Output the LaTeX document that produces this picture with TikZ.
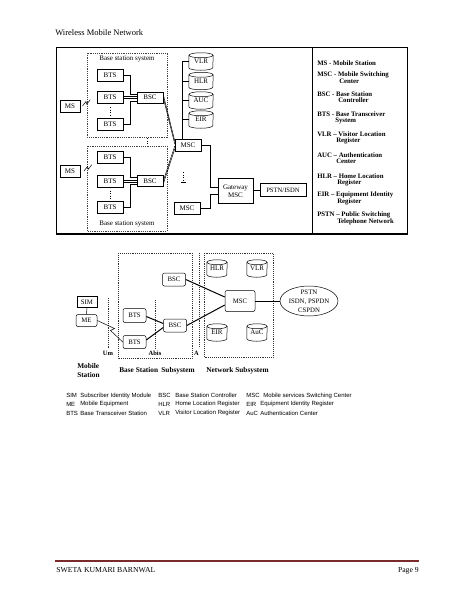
\documentclass[tikz,border=0pt]{standalone}
\usepackage{fontspec}
\setmainfont{Liberation Serif}
\newfontfamily\sansf{Liberation Sans}
\usetikzlibrary{calc,shapes.geometric}
\definecolor{footred}{RGB}{122,42,42}
\newcommand\mycyl[6]{%
  \node[cylnode, minimum width=#4pt, minimum height=#5pt] (#1) at (#2,#3) {\raisebox{-1.5pt}{#6}};
  \draw ($(#1.north west)+(0,-2.5)$) -- ($(#1.south west)+(0,2.5)$)
     arc[start angle=180,end angle=360,x radius=#4/2,y radius=2.5]
     -- ($(#1.north east)+(0,-2.5)$);
  \draw ($(#1.north)+(0,-2.5)$) ellipse[x radius=#4/2, y radius=2.5];
}
\begin{document}
\begin{tikzpicture}[x=1pt,y=1pt,line width=0.5pt,
  tbox/.style={draw, minimum width=26pt, minimum height=12pt, inner sep=0pt, font=\fontsize{7}{8}\selectfont},
  bbox/.style={draw, rounded corners=2pt, minimum width=23pt, minimum height=13pt, inner sep=0pt, font=\fontsize{6.8}{8}\selectfont},
  cylnode/.style={inner sep=0pt, font=\fontsize{7}{8}\selectfont},
  tsmall/.style={inner sep=0pt, font=\fontsize{7}{8}\selectfont},
  leg/.style={anchor=west, inner sep=0pt, font=\bfseries\fontsize{6.8}{8}\selectfont},
  blab/.style={inner sep=0pt, font=\bfseries\fontsize{7.3}{9}\selectfont},
  ifl/.style={inner sep=0pt, font=\bfseries\fontsize{6.5}{8}\selectfont},
  bleg/.style={anchor=west, inner sep=0pt, font=\sansf\fontsize{6}{7}\selectfont},
  dashbox/.style={draw=black!75, dash pattern=on 1.2pt off 1pt},
  dotbox/.style={draw=black!80, dash pattern=on 0.6pt off 1.3pt, line width=0.6pt},
  thk/.style={line width=1pt}
]
\useasboundingbox (0,0) rectangle (474,-613);
\fill[white] (0,0) rectangle (474,-613);

% header
\node[anchor=west, inner sep=0pt, font=\fontsize{8.5}{10}\selectfont] (hdr) at (55,-33) {Wireless Mobile Network};

% ================= top figure =================
\draw[line width=0.6pt] (56,-47) rectangle (407,-234);
\draw[line width=1.4pt] (56,-234) -- (407,-234);
\draw (312,-47) -- (312,-234);

\draw[dashbox] (87,-53) rectangle (167,-137);
\draw[dashbox] (87,-146) rectangle (167,-231);
\node[tsmall] (bsslab1) at (127,-59) {Base station system};
\node[tsmall] (bsslab2) at (127,-224) {Base station system};

\node[tbox, minimum width=20pt] (ms1) at (70,-106) {MS};
\node[tbox, minimum width=20pt] (ms2) at (70,-171.5) {MS};

\node[tbox] (bts1) at (110,-75) {BTS};
\node[tbox] (bts2) at (110,-97.5) {BTS};
\node[tbox] (bts3) at (110,-124) {BTS};
\node[tbox] (bts4) at (110,-157) {BTS};
\node[tbox] (bts5) at (110,-181) {BTS};
\node[tbox] (bts6) at (110,-207.5) {BTS};
\node[tbox, minimum height=11pt] (bsc1) at (150,-97.5) {BSC};
\node[tbox, minimum height=11pt] (bsc2) at (150,-181) {BSC};
\node[tbox] (msc1) at (188,-145) {MSC};
\node[tbox] (msc2) at (187,-208) {MSC};
\node[tbox, minimum width=35pt, minimum height=25pt, align=center, font=\fontsize{7}{8.5}\selectfont] (gw) at (235.5,-191) {Gateway\\MSC};
\node[tbox, minimum width=46pt, minimum height=13pt, font=\fontsize{6.6}{8}\selectfont] (pstn) at (283,-190) {PSTN/ISDN};

\mycyl{vlr}{201}{-61.5}{24}{17}{VLR}
\mycyl{hlr}{201}{-81}{24}{17}{HLR}
\mycyl{auc}{201}{-100.5}{24}{17}{AUC}
\mycyl{eir}{201}{-119.5}{24}{17}{EIR}

% bus to databases
\coordinate (bustop) at (182,-61.5);
\draw (bustop) -- (bustop |- msc1.north);
\foreach \c in {vlr,hlr,auc,eir} \draw (bustop |- \c.west) -- (\c.west);

% BTS to BSC
\draw (bts1.east) -- ++(7,0) |- ([yshift=3.5]bsc1.west);
\draw ([yshift=1]bts2.east) -- ([yshift=1]bsc1.west);
\draw ([yshift=-1]bts2.east) -- ([yshift=-1]bsc1.west);
\draw (bts3.east) -- ++(7,0) |- ([yshift=-3.5]bsc1.west);
\draw (bts4.east) -- ++(7,0) |- ([yshift=3.5]bsc2.west);
\draw ([yshift=1]bts5.east) -- ([yshift=1]bsc2.west);
\draw ([yshift=-1]bts5.east) -- ([yshift=-1]bsc2.west);
\draw (bts6.east) -- ++(7,0) |- ([yshift=-3.5]bsc2.west);

% BSC to MSC
\draw ([yshift=3]bsc1.east) -- ([yshift=4]msc1.west);
\draw ([yshift=0]bsc1.east) -- ([yshift=1]msc1.west);
\draw ([yshift=0]bsc2.east) -- ([yshift=-1]msc1.west);
\draw ([yshift=-3]bsc2.east) -- ([yshift=-4]msc1.west);

% MSC to gateway to PSTN
\draw (msc1.east) -- (210,-145) |- ([yshift=4]gw.west);
\draw (msc2.east) -- (210,-208) |- ([yshift=-3]gw.west);
\draw (gw.east |- pstn.west) -- (pstn.west);

% dots
\draw[dotted, line width=0.6pt] (110,-107) -- (110,-116);
\draw[dotted, line width=0.6pt] (110,-190.5) -- (110,-199);
\draw[dotted, line width=0.6pt] (147,-138) -- (147,-145);
\draw[dotted, line width=0.6pt] (183,-172) -- (183,-181);
\draw (181,-182) -- (186,-182);

% radio links
\draw (82.5,-106) -- (86,-101.5) -- (86.8,-104.2) -- (90.3,-99.7);
\draw (84,-171) -- (87.5,-166.5) -- (88.3,-169.2) -- (91.8,-164.7);

% legend top
\node[leg] (l1) at (317,-63) {MS - Mobile Station};
\node[leg] (l2a) at (317,-75) {MSC - Mobile Switching};
\node[leg] (l2b) at (339,-81.5) {Center};
\node[leg] (l3a) at (317,-94) {BSC - Base Station};
\node[leg] (l3b) at (338,-100.5) {Controller};
\node[leg] (l4a) at (317,-114) {BTS - Base Transceiver};
\node[leg] (l4b) at (335,-120.5) {System};
\node[leg] (l5a) at (317,-134) {VLR – Visitor Location};
\node[leg] (l5b) at (336,-140.5) {Register};
\node[leg] (l6a) at (317,-155) {AUC – Authentication};
\node[leg] (l6b) at (336,-161.5) {Center};
\node[leg] (l7a) at (317,-176) {HLR – Home Location};
\node[leg] (l7b) at (337,-182.5) {Register};
\node[leg] (l8a) at (317,-195) {EIR – Equipment Identity};
\node[leg] (l8b) at (337,-201.5) {Register};
\node[leg] (l9a) at (317,-215) {PSTN – Public Switching};
\node[leg] (l9b) at (337,-221.5) {Telephone Network};

% ================= bottom figure =================
\draw[dotbox] (118,-253) rectangle (192,-358);
\draw[dotbox] (204,-253) rectangle (273,-357);
\draw[dotbox] (199,-253) -- (199,-348);
\draw[dotbox] (108,-298) -- (108,-348);
\draw[dotbox] (155,-300) -- (155,-348);
\node[ifl] (um) at (108,-353) {Um};
\node[ifl] (abis) at (155,-353) {Abis};
\node[ifl] (aif) at (196.5,-353) {A};

\node[bbox, rounded corners=0pt, minimum width=20pt, minimum height=11pt] (sim) at (87,-302) {SIM};
\node[bbox, minimum width=21pt, minimum height=12pt] (me) at (86.5,-320.5) {ME};
\node[bbox, minimum height=14pt] (btsa) at (134.5,-315.5) {BTS};
\node[bbox] (btsb) at (134.5,-342) {BTS};
\node[bbox] (bsca) at (174,-279.5) {BSC};
\node[bbox] (bscb) at (175,-325.5) {BSC};
\node[bbox, minimum width=30pt, minimum height=21pt] (mscb) at (240,-301) {MSC};
\mycyl{hlrb}{217}{-268.5}{20}{17}{HLR}
\mycyl{vlrb}{257}{-268.5}{20}{17}{VLR}
\mycyl{eirb}{217}{-332.5}{20}{17}{EIR}
\mycyl{aucb}{257}{-332.5}{20}{17}{AuC}
\node[draw, ellipse, minimum width=58pt, minimum height=30pt, inner xsep=0pt, inner ysep=-3pt, align=center, font=\fontsize{6.8}{9}\selectfont] (pstnb) at (309,-301) {PSTN\\ISDN, PSPDN\\CSPDN};

\draw (sim.south) -- (me.north);
\draw (me.east) -- (114.5,-328.5) -- (110.5,-330.5) -- (btsb.west);
\draw[thk] ([yshift=-1]btsa.east) -- ([yshift=2]bscb.west);
\draw[thk] ([yshift=2]btsb.east) -- ([yshift=-2]bscb.west);
\draw[thk] (bsca.east) -- ([yshift=4]mscb.west);
\draw[thk] (bscb.east) -- ([yshift=-4]mscb.west);
\draw[thk] (mscb.east) -- (pstnb.west);

\node[blab, anchor=west, align=left] (mslab) at (77,-370.5) {Mobile\\Station};
\node[blab] (bsslab) at (157,-371) {Base Station\hspace{1.5pt} Subsystem};
\node[blab] (nsslab) at (237.5,-371) {Network Subsystem};

% bottom legend
\node[bleg] (a1) at (66,-395.7) {SIM};
\node[bleg] (d1) at (80,-395.7) {Subscriber Identity Module};
\node[bleg] (a2) at (66,-404.3) {ME};
\node[bleg] (d2) at (80,-404.3) {Mobile Equipment};
\node[bleg] (a3) at (66,-413) {BTS};
\node[bleg] (d3) at (80,-413) {Base Transceiver Station};
\node[bleg] (a4) at (158,-395.7) {BSC};
\node[bleg] (d4) at (175,-395.7) {Base Station Controller};
\node[bleg] (a5) at (158,-404.3) {HLR};
\node[bleg] (d5) at (175,-404.3) {Home Location Register};
\node[bleg] (a6) at (158,-413) {VLR};
\node[bleg] (d6) at (175,-413) {Visitor Location Register};
\node[bleg] (a7) at (246,-395.7) {MSC};
\node[bleg] (d7) at (263,-395.7) {Mobile services Switching Center};
\node[bleg] (a8) at (246,-404.3) {EIR};
\node[bleg] (d8) at (260,-404.3) {Equipment Identity Register};
\node[bleg] (a9) at (246,-413) {AuC};
\node[bleg] (d9) at (260,-413) {Authentication Center};

% footer
\draw[footred, line width=2pt] (55,-561) -- (419,-561);
\node[anchor=west, inner sep=0pt, font=\fontsize{7.7}{9}\selectfont] (ftl) at (56,-570.5) {SWETA KUMARI BARNWAL};
\node[anchor=east, inner sep=0pt, font=\fontsize{7.7}{9}\selectfont] (ftr) at (419,-570.5) {Page 9};
\end{tikzpicture}
\end{document}
